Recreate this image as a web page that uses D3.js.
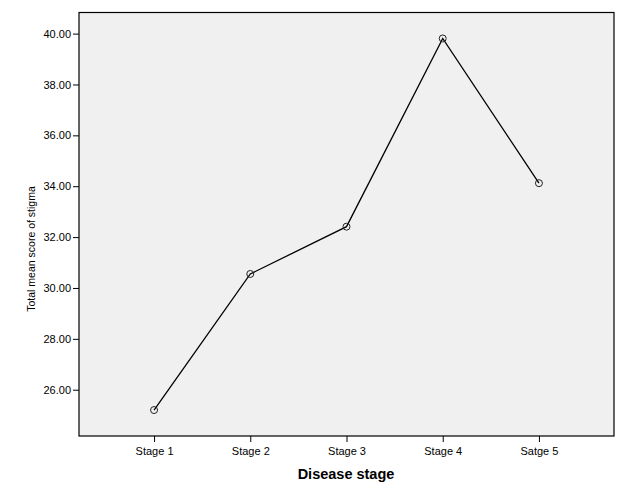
<!DOCTYPE html>
<html><head><meta charset="utf-8">
<script src="https://cdn.jsdelivr.net/npm/d3@7"></script>
<style>body{margin:0;background:#fff}svg{display:block}</style>
</head><body>
<script>
const categories = ["Stage 1","Stage 2","Stage 3","Stage 4","Satge 5"];
const values = [25.20, 30.55, 32.41, 39.81, 34.12];
const yTicks = [26, 28, 30, 32, 34, 36, 38, 40];
const xTitle = "Disease stage";
const yTitle = "Total mean score of stigma";

const W = 627, H = 502;
const m = {left: 79, top: 12.5, right: 13, bottom: 66};
const svg = d3.select("body").append("svg").attr("width", W).attr("height", H);
const iw = W - m.left - m.right, ih = H - m.top - m.bottom;
const g = svg.append("g").attr("transform", `translate(${m.left},${m.top})`);

const x = d3.scalePoint().domain(categories).range([0, iw]).padding(0.78);
const y = d3.scaleLinear().domain([24.18, 40.83]).range([ih, 0]);

g.append("rect").attr("width", iw).attr("height", ih).attr("fill", "#f0f0f0");

const yAxis = g.append("g").call(d3.axisLeft(y).tickValues(yTicks).tickFormat(d3.format(".2f")).tickSize(6).tickPadding(2));
const xAxis = g.append("g").attr("transform", `translate(0,${ih})`).call(d3.axisBottom(x).tickSize(6).tickPadding(5));
[yAxis, xAxis].forEach(a => {
  a.select(".domain").remove();
  a.selectAll("line").attr("stroke", "#000");
  a.selectAll("text").attr("fill", "#000").style("font-family", "Arial, 'Liberation Sans', sans-serif").style("font-size", "11px");
});

g.append("rect").attr("width", iw).attr("height", ih).attr("fill", "none").attr("stroke", "#000").attr("stroke-width", 1.2);

const line = d3.line().x((d, i) => x(categories[i])).y(d => y(d));
g.append("path").datum(values).attr("d", line).attr("fill", "none").attr("stroke", "#000").attr("stroke-width", 1.3);
g.selectAll("circle.pt").data(values).enter().append("circle")
  .attr("cx", (d, i) => x(categories[i])).attr("cy", d => y(d)).attr("r", 3.5)
  .attr("fill", "none").attr("stroke", "#222").attr("stroke-width", 1);

svg.append("text").attr("x", m.left + iw / 2 - 0.5).attr("y", 479).attr("text-anchor", "middle")
  .style("font-family", "Arial, 'Liberation Sans', sans-serif").style("font-size", "14.5px").style("font-weight", "bold").text(xTitle);
svg.append("text").attr("transform", `translate(35,249) rotate(-90)`).attr("text-anchor", "middle")
  .style("font-family", "Arial, 'Liberation Sans', sans-serif").style("font-size", "10.5px").text(yTitle);
</script>
</body></html>
